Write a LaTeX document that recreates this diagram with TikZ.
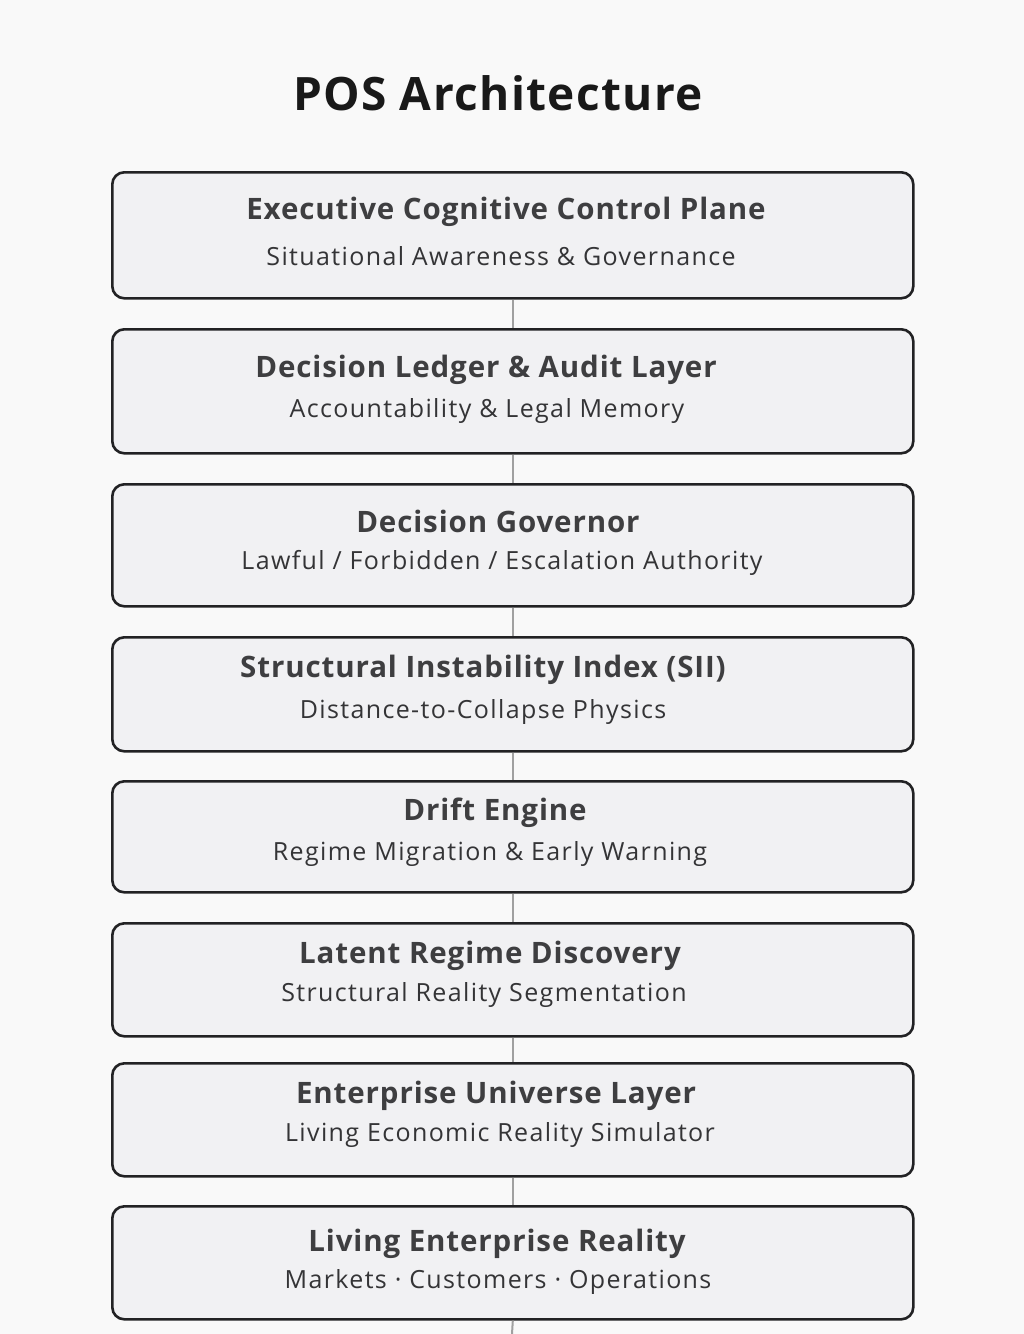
\documentclass[tikz,border=0pt]{standalone}
\usepackage{fontspec}
\setmainfont{Open Sans}
\newfontfamily\headfont[LetterSpace=3]{Open Sans}
\newfontfamily\subfont[LetterSpace=5.5]{Open Sans}
\newfontfamily\titlefont[LetterSpace=3]{Open Sans}
\definecolor{bgc}{RGB}{249,249,249}
\definecolor{boxfill}{RGB}{241,241,243}
\definecolor{boxline}{RGB}{34,34,36}
\definecolor{txt}{RGB}{52,52,54}
\definecolor{htxt}{RGB}{62,62,64}
\definecolor{conn}{RGB}{160,160,160}
\begin{document}
\begin{tikzpicture}[x=1pt,y=-1pt,
  layer/.style={draw=boxline,line width=2.6pt,fill=boxfill,rounded corners=12pt,
    minimum width=801pt,inner sep=0pt,anchor=north west},
  head/.style={text=htxt,font=\fontsize{29.5}{34}\headfont\bfseries},
  sub/.style={text=txt,font=\fontsize{25}{29}\subfont},
  link/.style={draw=conn,line width=2pt}]
\fill[bgc] (0,0) rectangle (1024,1334);
\useasboundingbox (0,0) rectangle (1024,1334);
\node[text=black!90,font=\fontsize{46}{52}\titlefont\bfseries] (title) at (498,93) {POS Architecture};
% boxes
\node[layer,minimum height=126pt] (b1) at (111,171) {};
\node[layer,minimum height=124pt] (b2) at (111,328) {};
\node[layer,minimum height=122pt] (b3) at (111,483) {};
\node[layer,minimum height=114pt] (b4) at (111,636) {};
\node[layer,minimum height=111pt] (b5) at (111,780) {};
\node[layer,minimum height=113pt] (b6) at (111,922) {};
\node[layer,minimum height=113pt] (b7) at (111,1062) {};
\node[layer,minimum height=113pt] (b8) at (111,1205) {};
\coordinate (end) at (512,1334);
% connectors
\draw[link] (b1.south) -- (b2.north);
\draw[link] (b2.south) -- (b3.north);
\draw[link] (b3.south) -- (b4.north);
\draw[link] (b4.south) -- (b5.north);
\draw[link] (b5.south) -- (b6.north);
\draw[link] (b6.south) -- (b7.north);
\draw[link] (b7.south) -- (b8.north);
\draw[link] (b8.south) -- (end);
% texts
\node[head] (h1) at (506,212) {Executive Cognitive Control Plane};
\node[sub] (s1) at (501,256) {Situational Awareness \& Governance};
\node[head] (h2) at (486,370) {Decision Ledger \& Audit Layer};
\node[sub] (s2) at (487,411) {Accountability \& Legal Memory};
\node[head] (h3) at (498,521) {Decision Governor};
\node[sub] (s3) at (502,563) {Lawful / Forbidden / Escalation Authority};
\node[head] (h4) at (483,670) {Structural Instability Index (SII)};
\node[sub] (s4) at (483,712) {Distance-to-Collapse Physics};
\node[head] (h5) at (495,813) {Drift Engine};
\node[sub] (s5) at (490,854) {Regime Migration \& Early Warning};
\node[head] (h6) at (490,956) {Latent Regime Discovery};
\node[sub] (s6) at (484,995) {Structural Reality Segmentation};
\node[head] (h7) at (496,1096) {Enterprise Universe Layer};
\node[sub] (s7) at (500,1135) {Living Economic Reality Simulator};
\node[head] (h8) at (497,1244) {Living Enterprise Reality};
\node[sub] (s8) at (498,1282) {Markets · Customers · Operations};
\end{tikzpicture}
\end{document}
